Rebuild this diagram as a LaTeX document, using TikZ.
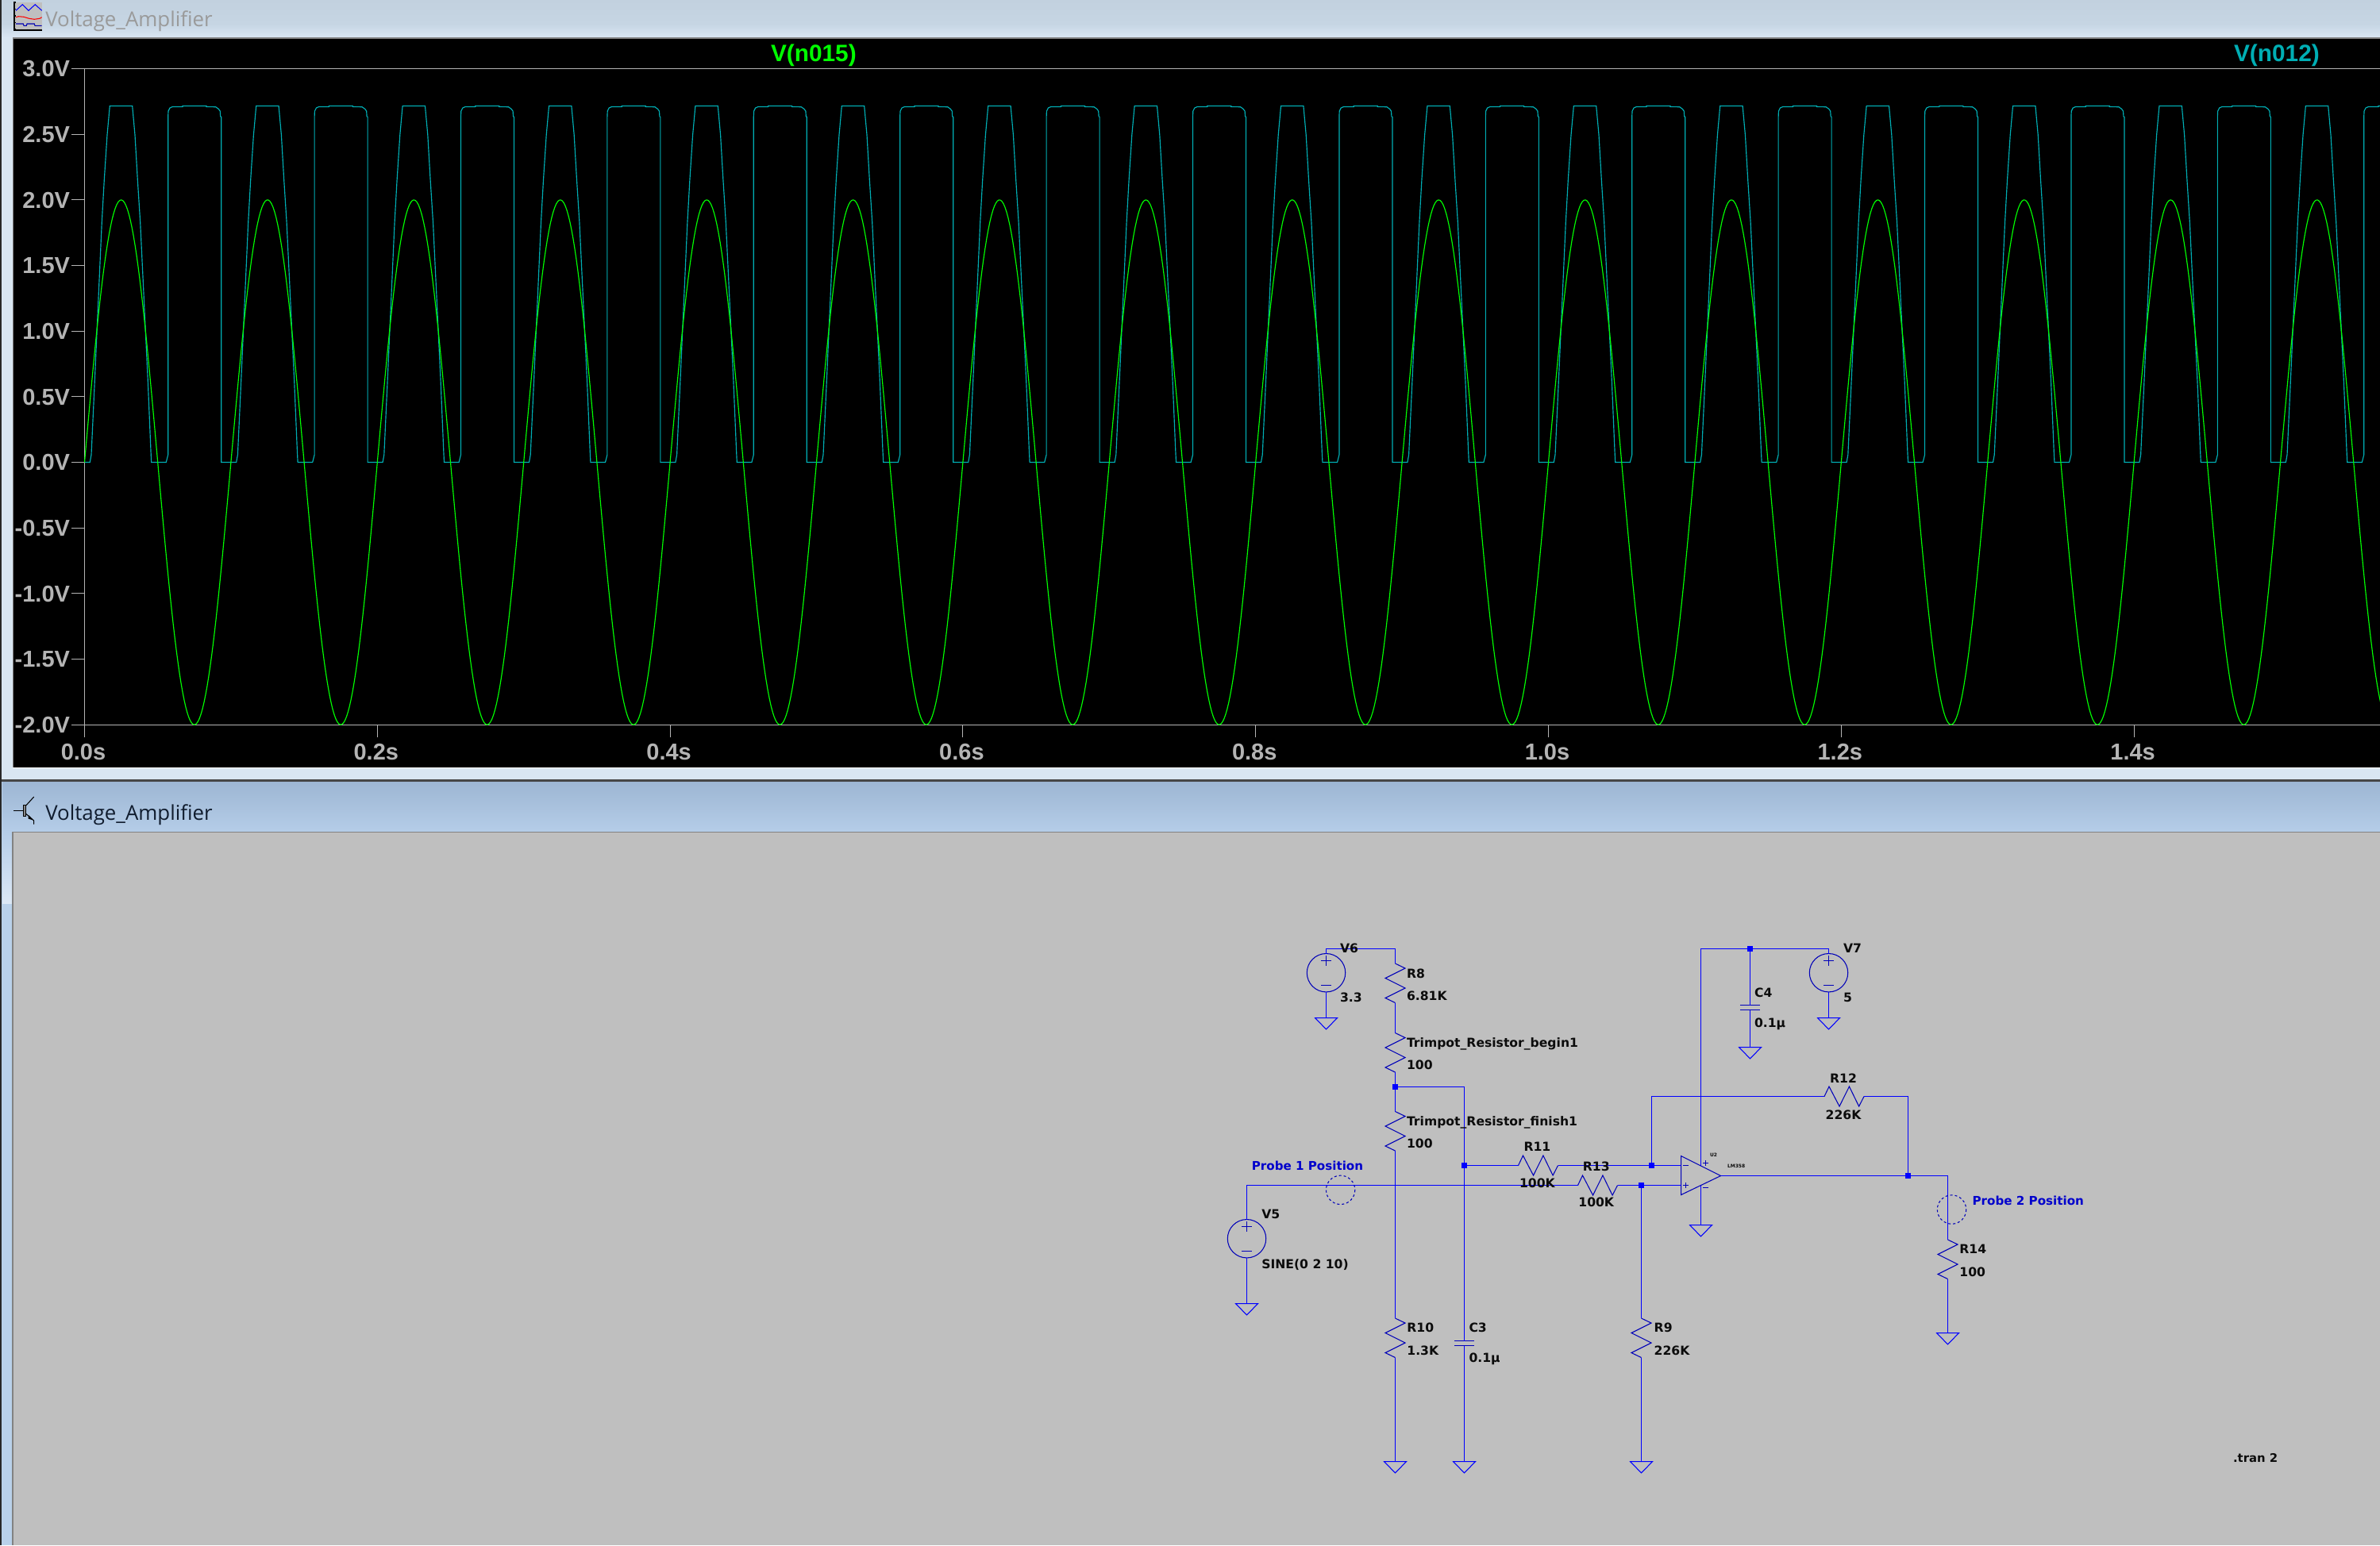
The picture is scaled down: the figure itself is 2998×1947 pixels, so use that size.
\documentclass[tikz,border=0pt]{standalone}
\usepackage{fontspec}
\newfontfamily\schemfont{DejaVu Sans}
\newfontfamily\axisfont{Liberation Sans}
\newfontfamily\titlefont{Open Sans}
\definecolor{wirec}{HTML}{0000FF}
\definecolor{symc}{HTML}{0000B8}
\definecolor{probec}{HTML}{0000CC}
\definecolor{axisc}{HTML}{B4B4B4}
\definecolor{cyanc}{HTML}{00AEB4}
\definecolor{greenc}{HTML}{00FF00}
\definecolor{cancolor}{HTML}{BFBFBF}
\definecolor{txtc}{HTML}{0C0C0C}
\newcommand{\pxfont}[1]{\fontsize{#1}{#1}\selectfont}
\tikzset{
  wire/.style={draw=wirec,line width=0.3pt},
  sym/.style={draw=symc,line width=0.3pt},
  lab/.style={inner sep=0pt,outer sep=0pt,anchor=base west,text=txtc,yshift=0.01cm,font=\schemfont\bfseries\pxfont{4.44pt}},
  labc/.style={lab,anchor=base},
  smalllab/.style={lab,font=\schemfont\bfseries\pxfont{1.7pt}},
  probelab/.style={lab,text=probec,font=\schemfont\bfseries\pxfont{4.3pt}},
  tranlab/.style={lab,font=\schemfont\bfseries\pxfont{4.22pt}},
  axlab/.style={inner sep=0pt,outer sep=0pt,text=axisc,font=\axisfont\bfseries\pxfont{8.25pt}},
  tracelab/.style={axlab,anchor=base west,font=\axisfont\bfseries\pxfont{8.48pt}},
  winlab/.style={inner sep=0pt,outer sep=0pt,anchor=base west,font=\titlefont\pxfont{7.35pt}},
  srcnode/.style={circle,sym,minimum size=0.484cm,inner sep=0pt,outer sep=0pt},
  probering/.style={sym,dash pattern=on 0.85pt off 0.85pt},
  axline/.style={draw=axisc,line width=0.3pt},
  trace/.style={line width=0.33pt,line join=miter}
}
% vertical resistor: name, x, top y
\newcommand{\vres}[3]{\coordinate (#1t) at (#2,#3);
  \draw[sym] (#1t) -- ++(12.5,6) -- ++(-25,12.5) -- ++(25,12.5) -- ++(-25,12.5) -- ++(12.5,6) coordinate (#1b);}
% horizontal resistor: name, x, y
\newcommand{\hres}[3]{\coordinate (#1l) at (#2,#3);
  \draw[sym] (#1l) -- ++(6,-12.5) -- ++(13,25) -- ++(12.4,-25) -- ++(12.2,25) -- ++(6.4,-12.5) coordinate (#1r);}
% ground: name, x, top y
\newcommand{\gnd}[3]{\coordinate (#1) at (#2,#3);
  \draw[wire,line join=miter] (#1) ++(-14,0) -- ++(28,0) -- ++(-14,14.4) -- cycle;}
% source symbols on a node
\newcommand{\srcsigns}[1]{\draw[sym] (#1) ++(-6.5,-15) -- ++(13,0) (#1) ++(0,-21.5) -- ++(0,13) (#1) ++(-6.5,15.8) -- ++(13,0);}
\newcommand{\junc}[1]{\fill[wirec] (#1) ++(-3.5,-3.5) rectangle ++(7,7);}
% capacitor: name, x, plate1 y
\newcommand{\capac}[3]{\coordinate (#1t) at (#2,#3);
  \draw[sym] (#1t) ++(-12.6,0) -- ++(25.2,0);
  \path (#1t) ++(0,6) coordinate (#1b);
  \draw[sym] (#1b) ++(-12.6,0) -- ++(25.2,0);}
\begin{document}
\begin{tikzpicture}[x=0.01cm,y=-0.01cm]
\useasboundingbox (0,0) rectangle (2998,1947);
% window chrome
\fill[color={rgb,255:red,217;green,230;blue,242}] (0,0) rectangle (2998,984);
\shade[top color={rgb,255:red,194;green,209;blue,223},bottom color={rgb,255:red,198;green,213;blue,227}] (2,0) rectangle (2998,30);
\shade[top color={rgb,255:red,198;green,213;blue,227},bottom color={rgb,255:red,217;green,230;blue,243}] (2,30) rectangle (2998,47);
\fill[color={rgb,255:red,185;green,209;blue,234}] (0,984) rectangle (2998,1947);
\shade[top color={rgb,255:red,157;green,182;blue,211},bottom color={rgb,255:red,181;green,205;blue,232}] (3,985) rectangle (2998,1048);
\shade[top color={rgb,255:red,181;green,205;blue,232},bottom color={rgb,255:red,220;green,232;blue,245}] (3,1048) rectangle (15,1138);
\fill[color={rgb,255:red,70;green,70;blue,70}] (2,982) rectangle (2998,985);
\fill[color={rgb,255:red,40;green,40;blue,40}] (0,0) rectangle (2,1947);
% plot pane
\fill[color={rgb,255:red,130;green,130;blue,130}] (16,47) rectangle (2998,49);
\fill[color={rgb,255:red,130;green,130;blue,130}] (16,47) rectangle (17,967);
\fill[black] (17,49) rectangle (2998,967);
\fill[white] (16,967) rectangle (2998,968);
% schematic pane
\fill[color={rgb,255:red,130;green,130;blue,130}] (15,1048) rectangle (2998,1049);
\fill[color={rgb,255:red,130;green,130;blue,130}] (15,1048) rectangle (17,1947);
\fill[cancolor] (17,1049) rectangle (2998,1947);
% window titles
\node[winlab,text={rgb,255:red,154;green,154;blue,154}] (title1) at (57.3,33.2) {Voltage\_Amplifier};
\node[winlab,text={rgb,255:red,16;green,28;blue,46}] (title2) at (57.3,1033.2) {Voltage\_Amplifier};
% waveform icon
\fill[cancolor] (17,3) rectangle (53,38);
\draw[black,line width=0.3pt] (18,3) -- (18,38) -- (53,38);
\foreach \k in {3,11.3,20,28.3,36.6}{\draw[black,line width=0.3pt] (17,\k) -- (20,\k);}
\foreach \k in {20,27.4,34.7,42,49.4}{\draw[black,line width=0.3pt] (\k,36.5) -- (\k,38.5);}
\draw[blue,line width=0.3pt] (20,13.3) -- (28.3,5.7) -- (36,13.3) -- (44.3,5.7) -- (52.7,13.3);
\draw[red,line width=0.3pt] (20,21.7) -- (23.3,20.7) -- (30,21.3) -- (36.7,23.3) -- (43.3,24.3) -- (50,23.3) -- (52.7,21.7);
\draw[blue!70!black,line width=0.3pt] (20,30) -- (29.3,30) -- (30,32.3) -- (33.3,32.3) -- (34,30) -- (43.3,30) -- (44,32.3) -- (52.7,32.3);
% transistor icon
\draw[black,line width=0.3pt] (17.3,1021.3) -- (29.3,1021.3);
\draw[black,line width=0.3pt,fill={rgb,255:red,136;green,136;blue,136}] (29.3,1014) rectangle (32.7,1028.7);
\draw[black,line width=0.3pt] (32.7,1015) -- (42.7,1004);
\draw[black,line width=0.3pt] (32.7,1025.3) -- (42.7,1034) -- (42.7,1038.7);
\fill[black] (36,1027) -- (42,1033.5) -- (35.5,1031.5) -- cycle;
% axes
\coordinate (org) at (106.5,913.5);
\coordinate (ytop) at (106.5,86.5);
\draw[axline] (90,86.5) -- (2998,86.5);
\draw[axline] (90,913.5) -- (2998,913.5);
\draw[axline] (ytop) -- (106.5,929);
\foreach \v/\t [count=\n] in {3.0/3.0V,2.5/2.5V,2.0/2.0V,1.5/1.5V,1.0/1.0V,0.5/0.5V,0.0/0.0V,-0.5/-0.5V,-1.0/-1.0V,-1.5/-1.5V,-2.0/-2.0V}{
  \pgfmathsetmacro{\yy}{582.5-165.33*\v}
  \draw[axline] (90,\yy) -- (106.5,\yy);
  \node[axlab,anchor=base east] (ylab\n) at (88,\yy+10.4) {\t};
}
\foreach \v/\t [count=\n] in {0/0.0s,0.2/0.2s,0.4/0.4s,0.6/0.6s,0.8/0.8s,1.0/1.0s,1.2/1.2s,1.4/1.4s}{
  \pgfmathsetmacro{\xx}{106.5+1844*\v}
  \draw[axline] (\xx,913) -- (\xx,929);
  \node[axlab,anchor=base] (xlab\n) at (\xx-1.5,957.5) {\t};
}
\node[tracelab,text=greenc] (tr1) at (971,77) {V(n015)};
\node[tracelab,text=cyanc] (tr2) at (2814,77) {V(n012)};
% traces
\begin{scope}
\clip (17,49) rectangle (2998,967);
\foreach \i in {0,...,15}{
\begin{scope}[shift={({106.5+184.4*\i},0)}]
\draw[trace,cyanc] (0,582.5) -- (6.8,582.5) -- (8.5,573) -- (12.8,480) -- (21.8,280) -- (24.8,226.7) -- (28.5,170) -- (31.8,133.5) -- (60.2,133.5) -- (63.5,170) -- (66.8,226.7) -- (70.2,280) -- (79.8,480) -- (83.5,568) -- (84.2,582.5) -- (102.8,582.5) -- (104.2,577) -- (105.2,573) -- (105.2,147) -- (105.5,140) -- (107.5,136) -- (110.8,134.5) -- (123.5,134.5) -- (123.5,133.5) -- (153.5,133.5) -- (153.5,134.5) -- (165.2,134.7) -- (168.8,137.3) -- (170.8,140) -- (171.2,146.7) -- (172.2,147.3) -- (172.2,582.5) -- (184.4,582.5);
\end{scope}}
\draw[trace,greenc] plot[domain=0:2892,samples=1500] ({106.5+\x},{582.5-330.65*sin(\x/184.4*360)});
\end{scope}
% ---------- schematic ----------
\node[srcnode] (v6) at (1670.5,1225.7) {}; \srcsigns{v6}
\node[srcnode] (v7) at (2303.5,1225.7) {}; \srcsigns{v7}
\node[srcnode] (v5) at (1570.5,1560.7) {}; \srcsigns{v5}
\gnd{g6}{1670.5}{1282.5}
\gnd{g7}{2303.5}{1282.5}
\gnd{g5}{1570.5}{1642.5}
\gnd{g10}{1757.5}{1841.5}
\gnd{g3}{1844.5}{1841.5}
\gnd{g9}{2067.5}{1841.5}
\gnd{g14}{2453.5}{1679.5}
\gnd{g4}{2204.5}{1319.5}
\gnd{gu}{2142.5}{1543.5}
\vres{r8}{1757.5}{1214}
\vres{rb}{1757.5}{1301.5}
\vres{rf}{1757.5}{1400.5}
\vres{r10}{1757.5}{1661}
\vres{r9}{2067.5}{1661}
\vres{r14}{2453.5}{1562}
\hres{r11}{1912.5}{1468.5}
\hres{r13}{1987.5}{1493.5}
\hres{r12}{2298}{1381.5}
\capac{c3}{1844.5}{1689.5}
\capac{c4}{2204.5}{1266.5}
% op-amp
\coordinate (opin) at (2117.5,1468.5);
\coordinate (opip) at (2117.5,1493.5);
\coordinate (opo) at (2167.5,1481.5);
\coordinate (opv) at (2142.5,1469);
\coordinate (opg) at (2142.5,1493.7);
\draw[sym,line join=miter] (2117.5,1456.5) -- (opo) -- (2117.5,1505.5) -- cycle;
\draw[sym] (2119.5,1468.5) -- (2126.5,1468.5);
\draw[sym] (2119.5,1493.5) -- (2126.5,1493.5) (2123,1490) -- (2123,1497);
\draw[sym] (2145,1465.5) -- (2152,1465.5) (2148.5,1462) -- (2148.5,1469);
\draw[sym] (2145,1496.5) -- (2152,1496.5);
% named points
\coordinate (ntop) at (1757.5,1195.5);
\coordinate (ja) at (1757.5,1369.5);
\coordinate (jb) at (1844.5,1369.5);
\coordinate (jc) at (1844.5,1468.5);
\coordinate (jd) at (2080.5,1468.5);
\coordinate (je) at (2080.5,1381.5);
\coordinate (jf) at (2067.5,1493.5);
\coordinate (jg) at (2403.5,1481.5);
\coordinate (jh) at (2403.5,1381.5);
\coordinate (ji) at (2453.5,1481.5);
\coordinate (s5) at (1570.5,1493.5);
\coordinate (sup) at (2142.5,1195.5);
\coordinate (jk) at (2204.5,1195.5);
% wires
\draw[wire] (v6.north) -- (1670.5,1195.5) -- (ntop) -- (r8t);
\draw[wire] (v6.south) -- (g6);
\draw[wire] (r8b) -- (rbt);
\draw[wire] (rbb) -- (ja) -- (rft);
\draw[wire] (ja) -- (jb) -- (jc) -- (c3t);
\draw[wire] (c3b) -- (g3);
\draw[wire] (rfb) -- (r10t);
\draw[wire] (r10b) -- (g10);
\draw[wire] (jc) -- (r11l);
\draw[wire] (r11r) -- (jd) -- (opin);
\draw[wire] (jd) -- (je) -- (r12l);
\draw[wire] (r12r) -- (jh) -- (jg);
\draw[wire] (opo) -- (jg) -- (ji) -- (r14t);
\draw[wire] (r14b) -- (g14);
\draw[wire] (v5.north) -- (s5) -- (r13l);
\draw[wire] (v5.south) -- (g5);
\draw[wire] (r13r) -- (jf) -- (opip);
\draw[wire] (jf) -- (r9t);
\draw[wire] (r9b) -- (g9);
\draw[wire] (opv) -- (sup) -- (jk) -- (2303.5,1195.5) -- (v7.north);
\draw[wire] (jk) -- (c4t);
\draw[wire] (c4b) -- (g4);
\draw[wire] (v7.south) -- (g7);
\draw[wire] (opg) -- (gu);
\junc{ja}\junc{jc}\junc{jd}\junc{jf}\junc{jg}\junc{jk}
% probes
\draw[probering] (1688.6,1499.3) circle [radius=18.2];
\draw[probering] (2458.5,1524) circle [radius=18.2];
% labels
\node[lab] (lv6) at (1688,1201.4) {V6};
\node[lab] (lv6v) at (1688,1263.7) {3.3};
\node[lab] (lr8) at (1772,1233) {R8};
\node[lab] (lr8v) at (1772,1261) {6.81K};
\node[lab] (lrb) at (1772,1320) {Trimpot\_Resistor\_begin1};
\node[lab] (lrbv) at (1772,1348) {100};
\node[lab] (lrf) at (1772,1419) {Trimpot\_Resistor\_finish1};
\node[lab] (lrfv) at (1772,1447) {100};
\node[labc] (lr11) at (1936.4,1451.7) {R11};
\node[labc] (lr11v) at (1936.4,1497.4) {100K};
\node[labc] (lr13) at (2010.7,1476.7) {R13};
\node[labc] (lr13v) at (2010.7,1521.7) {100K};
\node[probelab] (lp1) at (1576.8,1475) {Probe 1 Position};
\node[lab] (lv5) at (1589.3,1536.7) {V5};
\node[lab] (lv5v) at (1589.3,1599) {SINE(0 2 10)};
\node[lab] (lr10) at (1772.4,1679.7) {R10};
\node[lab] (lr10v) at (1772.4,1708.4) {1.3K};
\node[lab] (lc3) at (1850.5,1679.7) {C3};
\node[lab] (lc3v) at (1850.5,1717.4) {0.1µ};
\node[lab] (lr9) at (2083.7,1679.7) {R9};
\node[lab] (lr9v) at (2083.7,1708.4) {226K};
\node[lab] (lc4) at (2210,1257.7) {C4};
\node[lab] (lc4v) at (2210,1295) {0.1µ};
\node[lab] (lv7) at (2322,1201.7) {V7};
\node[lab] (lv7v) at (2322,1263.7) {5};
\node[labc] (lr12) at (2322,1365) {R12};
\node[labc] (lr12v) at (2322,1411) {226K};
\node[smalllab] (lu2) at (2154,1458.5) {U2};
\node[smalllab] (lu2v) at (2176,1472.5) {LM358};
\node[probelab] (lp2) at (2484.6,1519) {Probe 2 Position};
\node[lab] (lr14) at (2468.4,1580.7) {R14};
\node[lab] (lr14v) at (2468.4,1609) {100};
\node[tranlab] (ltran) at (2813,1843) {.tran 2};
\end{tikzpicture}
\end{document}
